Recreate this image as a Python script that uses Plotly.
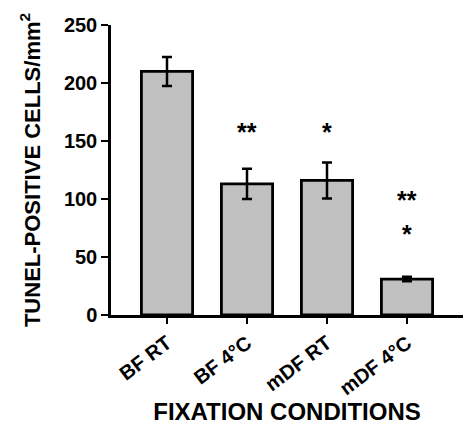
import plotly.graph_objects as go

# values
conditions = ["BF RT", "BF 4°C", "mDF RT", "mDF 4°C"]
cells = [210, 113, 116, 31]
cells_err = [12.5, 13, 15.5, 2]

# significance marks: (category, y, text)
marks_cat = ["BF 4°C", "mDF RT", "mDF 4°C", "mDF 4°C"]
marks_y = [158, 158, 99, 70]
marks_txt = ["**", "*", "**", "*"]

font_name = "Liberation Sans, Arial, sans-serif"

fig = go.Figure()
fig.add_trace(go.Bar(
    x=conditions, y=cells,
    marker=dict(color="#c0c0c0", line=dict(color="black", width=2.8)),
    width=0.64,
    error_y=dict(type="data", array=cells_err, color="black", thickness=2.5, width=5),
))

for c, yv, t in zip(marks_cat, marks_y, marks_txt):
    fig.add_annotation(x=c, y=yv, text="<b>" + t + "</b>", showarrow=False,
                       font=dict(size=25, color="black", family=font_name))

# page body adds 8px offset, so figure is a bit smaller than the window
fig.update_layout(
    width=466, height=417,
    margin=dict(l=103, r=11, t=17, b=110),
    plot_bgcolor="white", paper_bgcolor="white",
    showlegend=False,
    font=dict(family=font_name, color="black"),
    xaxis=dict(
        range=[-0.7, 3.7], automargin=False,
        showline=True, linecolor="black", linewidth=2.5,
        ticks="outside", ticklen=6, tickwidth=2, tickcolor="black",
        tickangle=-37,
        tickfont=dict(size=20, family=font_name),
        tickprefix="<b>", ticksuffix="</b>",
        title=dict(text="<b>FIXATION CONDITIONS</b>", font=dict(size=24), standoff=20),
    ),
    yaxis=dict(
        range=[0, 250], dtick=50, automargin=False,
        showline=True, linecolor="black", linewidth=2.5,
        showgrid=False, zeroline=False,
        ticks="outside", ticklen=7, tickwidth=2, tickcolor="black",
        tickfont=dict(size=20, family=font_name),
        tickprefix="<b>", ticksuffix="</b>",
        title=dict(text="<b>TUNEL-POSITIVE CELLS/mm<sup>2</sup></b>", font=dict(size=22), standoff=18),
    ),
)

fig.write_html("out.html")
